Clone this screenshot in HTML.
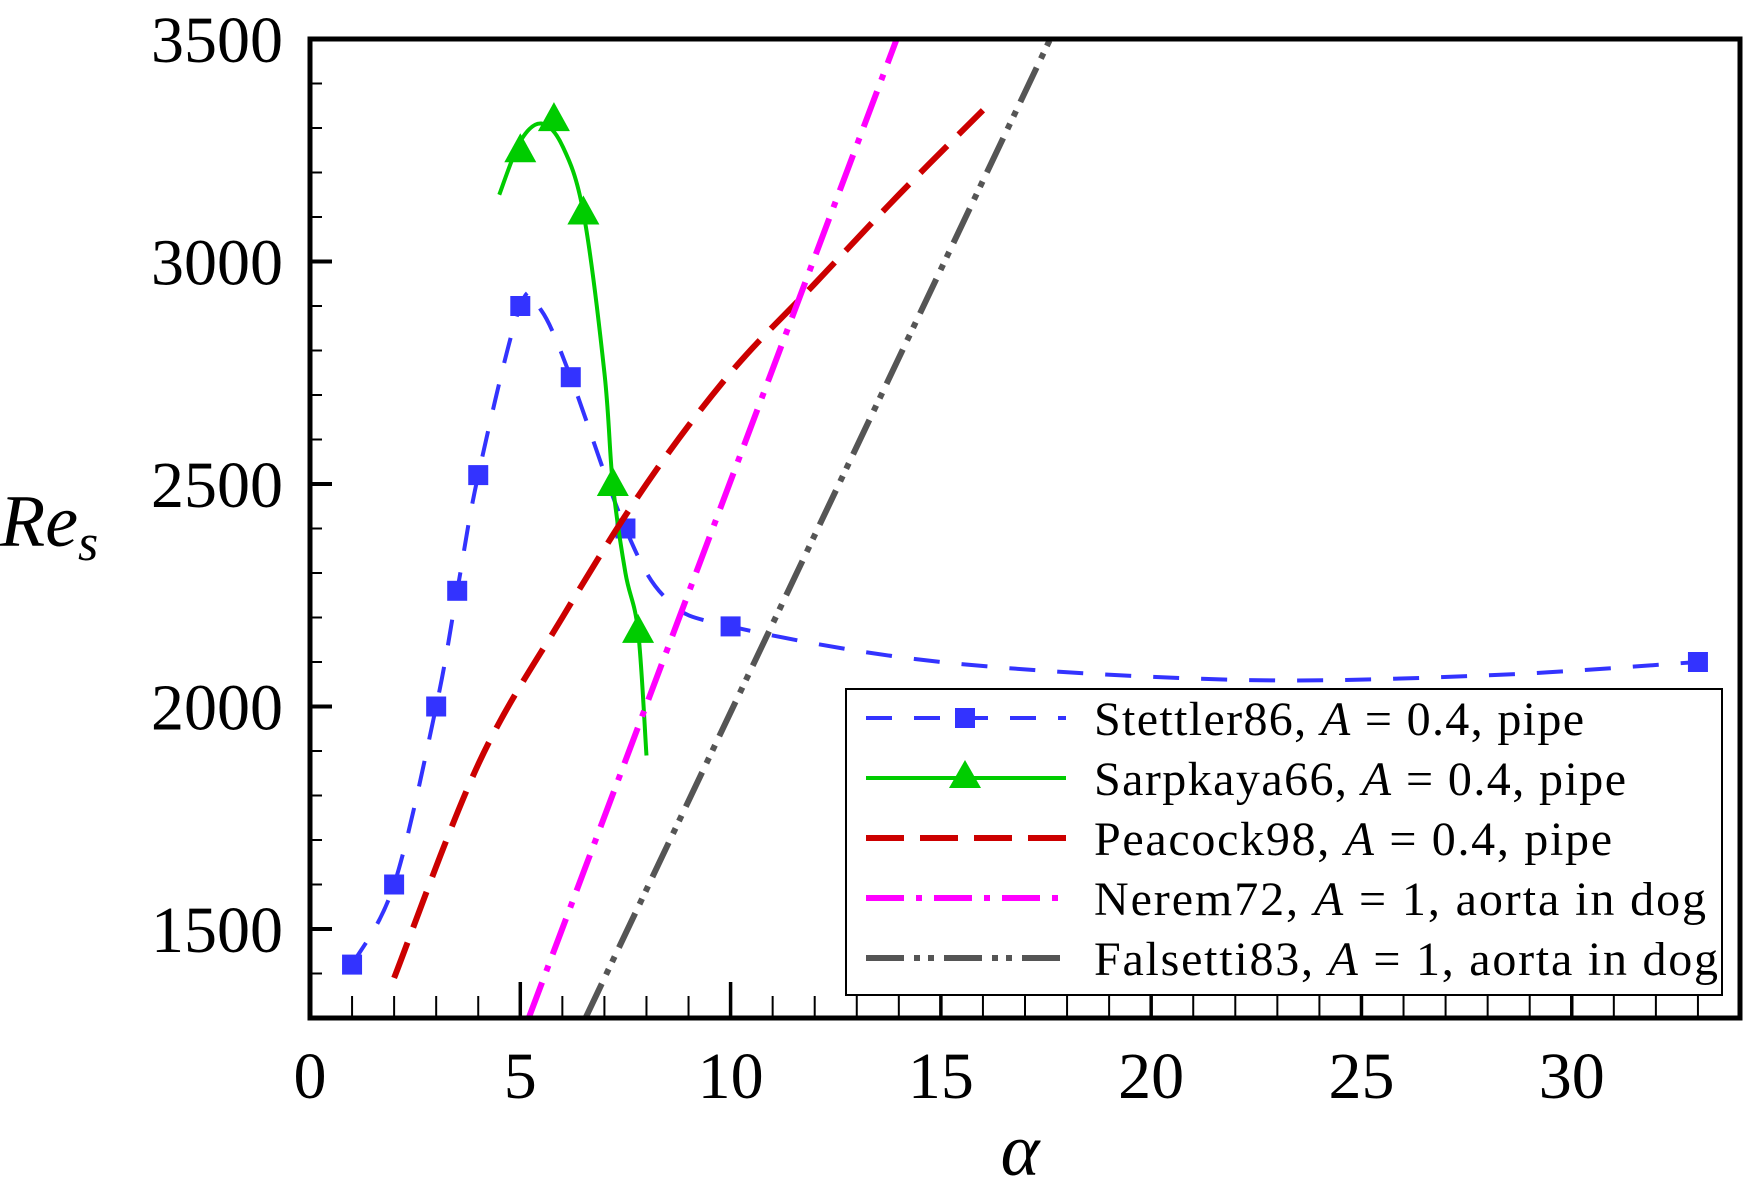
<!DOCTYPE html>
<html><head><meta charset="utf-8"><style>
html,body{margin:0;padding:0;background:#fff;}
svg{display:block;font-family:"Liberation Serif",serif;}
</style></head><body>
<svg id="s" width="1743" height="1182" viewBox="0 0 1743 1182" xmlns="http://www.w3.org/2000/svg"></svg>
<script>
const s=document.getElementById('s');
const X0=310,X1=1740,Y0=39,Y1=1018,xmin=0,xmax=34,ymin=1300,ymax=3500;
const px=x=>X0+(x-xmin)/(xmax-xmin)*(X1-X0);
const py=y=>Y1-(y-ymin)/(ymax-ymin)*(Y1-Y0);
let h='';
h+=`<defs><clipPath id="c"><rect x="${X0}" y="${Y0}" width="${X1-X0}" height="${Y1-Y0}"/></clipPath></defs>`;
for(let x=1;x<34;x++){const L=x%5==0?36:22;h+=`<line x1="${px(x)}" y1="${Y1}" x2="${px(x)}" y2="${Y1-L}" stroke="#000" stroke-width="${x%5==0?3.5:2}"/>`;}
for(let y=1400;y<3500;y+=100){const L=y%500==0?22:12;h+=`<line x1="${X0}" y1="${py(y)}" x2="${X0+L}" y2="${py(y)}" stroke="#000" stroke-width="${y%500==0?4:2}"/>`;}
for(let x=0;x<=30;x+=5)h+=`<text x="${px(x)}" y="1098" font-size="66" text-anchor="middle">${x}</text>`;
for(let y=1500;y<=3500;y+=500)h+=`<text x="283" y="${py(y)+23}" font-size="66" text-anchor="end">${y}</text>`;
h+=`<text x="0" y="546" font-size="74" font-style="italic">Re<tspan font-size="52" dy="14">s</tspan></text>`;
h+=`<text x="1020" y="1175" font-size="74" font-style="italic" text-anchor="middle">α</text>`;
function cr(pts){let d=`M${px(pts[0][0])},${py(pts[0][1])}`;
 const P=pts.map(p=>[px(p[0]),py(p[1])]);
 for(let i=0;i<P.length-1;i++){const p0=P[i-1]||P[i],p1=P[i],p2=P[i+1],p3=P[i+2]||P[i+1];
 d+=` C${p1[0]+(p2[0]-p0[0])/6},${p1[1]+(p2[1]-p0[1])/6} ${p2[0]-(p3[0]-p1[0])/6},${p2[1]-(p3[1]-p1[1])/6} ${p2[0]},${p2[1]}`;}return d;}
let g='';
const st=[[1,1420],[2,1600],[3,2000],[3.5,2260],[4,2520],[5,2900],[5.5,2890],[6.2,2740],[7.5,2400],[8.5,2240],[10,2180],[15,2100],[22,2060],[28,2070],[33,2100]];
g+=`<path d="${cr(st)}" fill="none" stroke="#3333ff" stroke-width="4" stroke-dasharray="26,22"/>`;
[[1,1420],[2,1600],[3,2000],[3.5,2260],[4,2520],[5,2900],[6.2,2740],[7.5,2400],[10,2180],[33,2100]].forEach(p=>g+=`<rect x="${px(p[0])-10}" y="${py(p[1])-10}" width="20" height="20" fill="#3333ff"/>`);
const sa=[[4.5,3150],[5,3270],[5.5,3310],[6,3260],[6.5,3110],[7,2750],[7.2,2500],[7.5,2300],[7.8,2170],[8,1890]];
g+=`<path d="${cr(sa)}" fill="none" stroke="#00cc00" stroke-width="4"/>`;
[[5,3250],[5.8,3320],[6.5,3110],[7.2,2500],[7.8,2170]].forEach(p=>{const x=px(p[0]),y=py(p[1]);g+=`<polygon points="${x},${y-17} ${x-16},${y+12} ${x+16},${y+12}" fill="#00cc00"/>`;});
const pe=[[2,1390],[4,1870],[6,2200],[8,2500],[10,2750],[12,2950],[14,3150],[16,3340]];
g+=`<path d="${cr(pe)}" fill="none" stroke="#cc0000" stroke-width="6" stroke-dasharray="38,16"/>`;
g+=`<line x1="${px(5.2)}" y1="${py(1300)}" x2="${px(13.95)}" y2="${py(3500)}" stroke="#ff00ff" stroke-width="6" stroke-dasharray="38,12,6,12"/>`;
g+=`<line x1="${px(6.55)}" y1="${py(1300)}" x2="${px(17.6)}" y2="${py(3500)}" stroke="#555" stroke-width="6" stroke-dasharray="38,10,6,8,6,10"/>`;
h+=`<g clip-path="url(#c)">${g}</g>`;
h+=`<rect x="846" y="689" width="876" height="306" fill="#fff" stroke="#000" stroke-width="2"/>`;
const L=[["Stettler86","A = 0.4, pipe","#3333ff","26,22",4,490],["Sarpkaya66","A = 0.4, pipe","#00cc00","",4,532],["Peacock98","A = 0.4, pipe","#cc0000","38,16",6,518],["Nerem72","A = 1, aorta in dog","#ff00ff","38,12,6,12",6,612],["Falsetti83","A = 1, aorta in dog","#555","38,10,6,8,6,10",6,624]];
L.forEach((e,i)=>{const y=718+i*60;
 h+=`<line x1="866" y1="${y}" x2="1066" y2="${y}" stroke="${e[2]}" stroke-width="${e[4]}" ${e[3]?`stroke-dasharray="${e[3]}"`:''}/>`;
 if(i==0)h+=`<rect x="955" y="${y-10}" width="20" height="20" fill="#3333ff"/>`;
 if(i==1)h+=`<polygon points="965,${y-18} 949,${y+10} 981,${y+10}" fill="#00cc00"/>`;
 const parts=e[1].split(', ');const eq=parts[0].split(' = ');
 h+=`<text x="1094" y="${y+17}" font-size="48" textLength="${e[5]}" lengthAdjust="spacing">${e[0]}, <tspan font-style="italic">${eq[0]}</tspan> = ${eq[1]}, ${parts.slice(1).join(', ')}</text>`;});
h+=`<rect x="${X0}" y="${Y0}" width="${X1-X0}" height="${Y1-Y0}" fill="none" stroke="#000" stroke-width="5"/>`;
s.innerHTML=h;
</script>
</body></html>
